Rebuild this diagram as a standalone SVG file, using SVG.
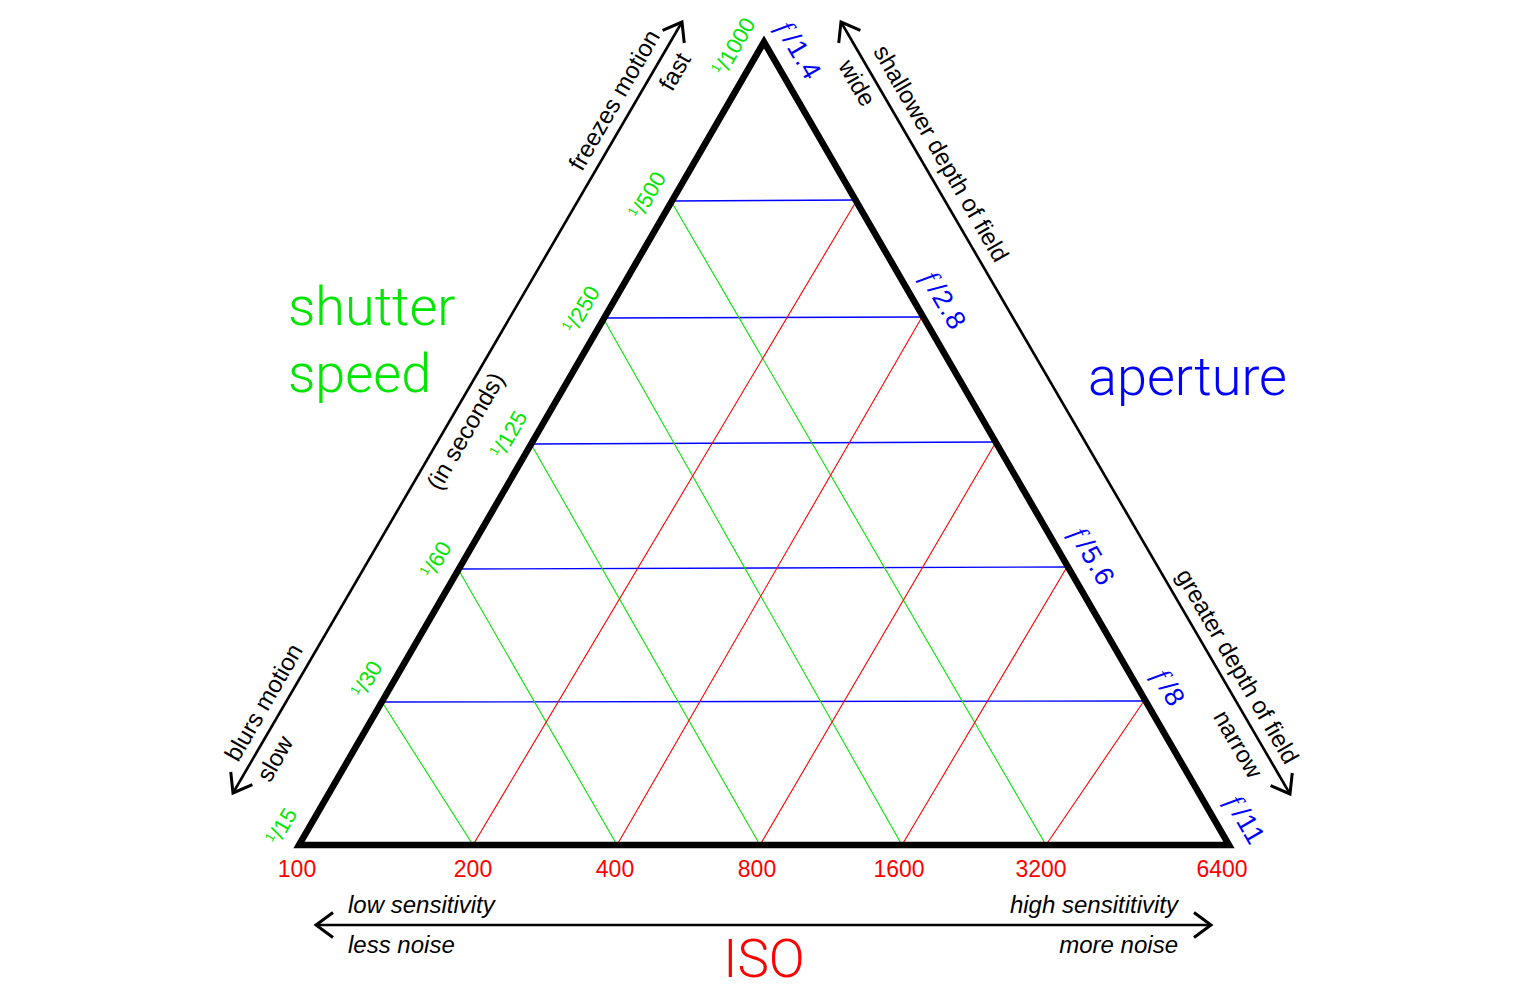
<svg xmlns="http://www.w3.org/2000/svg" width="1536" height="987" viewBox="0 0 1536 987">
<style>
  .lbl { font-family: "Liberation Sans", Arial, sans-serif; font-size: 24px; fill: #000; }
  .it { font-style: italic; }
  .big { font-family: Roboto, "Liberation Sans", sans-serif; font-weight: 300; }
  .gn { font-family: "Liberation Sans", Arial, sans-serif; font-size: 22px; fill: #00e600; }
  .bl { font-family: "Liberation Sans", Arial, sans-serif; font-size: 27px; fill: #0000ff; letter-spacing: 1px; }
  .fi { font-family: "Liberation Serif", "Times New Roman", serif; font-style: italic; }
  .rd { font-family: "Liberation Sans", Arial, sans-serif; font-size: 23px; fill: #ff0000; text-anchor: middle; }
  .arrow { fill: none; stroke: #000; stroke-width: 2.6; }
  .gblue { stroke: #0000ff; stroke-width: 1.3; fill: none; }
  .ggreen { stroke: #00e600; stroke-width: 1.1; fill: none; }
  .gred { stroke: #ff0000; stroke-width: 1.1; fill: none; }
</style>
<defs>
  <marker id="chev" markerUnits="userSpaceOnUse" markerWidth="40" markerHeight="40" viewBox="-20 -20 40 40" refX="0" refY="0" orient="auto-start-reverse" overflow="visible">
    <path d="M-17,-12.5 L0,0 L-17,12.5" fill="none" stroke="#000" stroke-width="3" stroke-linejoin="miter"/>
  </marker>
</defs>
<rect width="1536" height="987" fill="#fff"/>

<g id="connectors">
  <g id="grid-blue">
    <line class="gblue" x1="671" y1="201" x2="857" y2="200"/>
    <line class="gblue" x1="603" y1="318" x2="922" y2="317"/>
    <line class="gblue" x1="531" y1="444" x2="996" y2="442"/>
    <line class="gblue" x1="458" y1="569" x2="1067" y2="567"/>
    <line class="gblue" x1="382" y1="702" x2="1144" y2="701"/>
  </g>
  <g id="grid-green">
    <line class="ggreen" x1="382" y1="702" x2="473" y2="845"/>
    <line class="ggreen" x1="458" y1="569" x2="617" y2="845"/>
    <line class="ggreen" x1="531" y1="444" x2="760" y2="845"/>
    <line class="ggreen" x1="603" y1="318" x2="902" y2="845"/>
    <line class="ggreen" x1="671" y1="201" x2="1046" y2="845"/>
  </g>
  <g id="grid-red">
    <line class="gred" x1="473" y1="845" x2="857" y2="200"/>
    <line class="gred" x1="617" y1="845" x2="922" y2="317"/>
    <line class="gred" x1="760" y1="845" x2="996" y2="442"/>
    <line class="gred" x1="902" y1="845" x2="1067" y2="567"/>
    <line class="gred" x1="1046" y1="845" x2="1144" y2="701"/>
  </g>
  <g id="axis-arrows">
    <line class="arrow" x1="233" y1="793" x2="682" y2="22" marker-start="url(#chev)" marker-end="url(#chev)"/>
    <line class="arrow" x1="841" y1="22" x2="1290" y2="794" marker-start="url(#chev)" marker-end="url(#chev)"/>
    <line class="arrow" x1="316" y1="925" x2="1211" y2="925" marker-start="url(#chev)" marker-end="url(#chev)"/>
  </g>
</g>

<g id="triangle">
  <polygon points="764,42 299,845 1229,845" fill="none" stroke="#000" stroke-width="6.5" stroke-linejoin="miter"/>
</g>

<g id="shutter-speed">
  <text class="big" x="288" y="325" font-size="54" fill="#00e600">shutter</text>
  <text class="big" x="288" y="392" font-size="54" fill="#00e600">speed</text>
  <g id="shutter-scale">
    <text class="gn" text-anchor="middle" transform="translate(740.6,50.3) rotate(-60)"><tspan font-size="13" dy="-8">1</tspan><tspan dy="8">/</tspan>1000</text>
    <text class="gn" text-anchor="middle" transform="translate(654.3,199.1) rotate(-60)"><tspan font-size="13" dy="-8">1</tspan><tspan dy="8">/</tspan>500</text>
    <text class="gn" text-anchor="middle" transform="translate(588.1,313.3) rotate(-60)"><tspan font-size="13" dy="-8">1</tspan><tspan dy="8">/</tspan>250</text>
    <text class="gn" text-anchor="middle" transform="translate(515.6,438.2) rotate(-60)"><tspan font-size="13" dy="-8">1</tspan><tspan dy="8">/</tspan>125</text>
    <text class="gn" text-anchor="middle" transform="translate(442.9,563.6) rotate(-60)"><tspan font-size="13" dy="-8">1</tspan><tspan dy="8">/</tspan>60</text>
    <text class="gn" text-anchor="middle" transform="translate(373.6,683) rotate(-60)"><tspan font-size="13" dy="-8">1</tspan><tspan dy="8">/</tspan>30</text>
    <text class="gn" text-anchor="middle" transform="translate(288.4,830) rotate(-60)"><tspan font-size="13" dy="-8">1</tspan><tspan dy="8">/</tspan>15</text>
  </g>
  <g id="shutter-notes">
    <text class="lbl" text-anchor="middle" transform="translate(621.4,104.1) rotate(-60)">freezes motion</text>
    <text class="lbl" text-anchor="middle" transform="translate(681.8,75.7) rotate(-60)">fast</text>
    <text class="lbl" text-anchor="middle" transform="translate(472.6,435.2) rotate(-60)">(in seconds)</text>
    <text class="lbl" text-anchor="middle" transform="translate(270.8,706.5) rotate(-60)">blurs motion</text>
    <text class="lbl" text-anchor="middle" transform="translate(282,762.8) rotate(-60)">slow</text>
  </g>
</g>

<g id="aperture">
  <text class="big" x="1088" y="395" font-size="54" fill="#0000ff">aperture</text>
  <g id="aperture-scale">
    <text class="bl" text-anchor="middle" transform="translate(791,55) rotate(60)"><tspan class="fi">f</tspan><tspan dx="5">/1.4</tspan></text>
    <text class="bl" text-anchor="middle" transform="translate(936,305) rotate(60)"><tspan class="fi">f</tspan><tspan dx="5">/2.8</tspan></text>
    <text class="bl" text-anchor="middle" transform="translate(1084.5,561) rotate(60)"><tspan class="fi">f</tspan><tspan dx="5">/5.6</tspan></text>
    <text class="bl" text-anchor="middle" transform="translate(1161,692.5) rotate(60)"><tspan class="fi">f</tspan><tspan dx="5">/8</tspan></text>
    <text class="bl" text-anchor="middle" transform="translate(1237.5,824.5) rotate(60)"><tspan class="fi">f</tspan><tspan dx="5">/11</tspan></text>
  </g>
  <g id="aperture-notes">
    <text class="lbl" text-anchor="middle" transform="translate(934,157.5) rotate(60)">shallower depth of field</text>
    <text class="lbl" text-anchor="middle" transform="translate(850,87) rotate(60)">wide</text>
    <text class="lbl" text-anchor="middle" transform="translate(1230.5,670.4) rotate(60)">greater depth of field</text>
    <text class="lbl" text-anchor="middle" transform="translate(1231,748.3) rotate(60)">narrow</text>
  </g>
</g>

<g id="iso">
  <text class="big" x="764" y="977" font-size="53" fill="#ff0000" text-anchor="middle">ISO</text>
  <g id="iso-scale">
    <text class="rd" x="297" y="877">100</text>
    <text class="rd" x="473" y="877">200</text>
    <text class="rd" x="615" y="877">400</text>
    <text class="rd" x="757" y="877">800</text>
    <text class="rd" x="899" y="877">1600</text>
    <text class="rd" x="1041" y="877">3200</text>
    <text class="rd" x="1222" y="877">6400</text>
  </g>
  <g id="iso-notes">
    <text class="lbl it" x="348" y="913">low sensitivity</text>
    <text class="lbl it" x="348" y="953">less noise</text>
    <text class="lbl it" x="1178" y="913" text-anchor="end">high sensititivity</text>
    <text class="lbl it" x="1178" y="953" text-anchor="end">more noise</text>
  </g>
</g>
</svg>
